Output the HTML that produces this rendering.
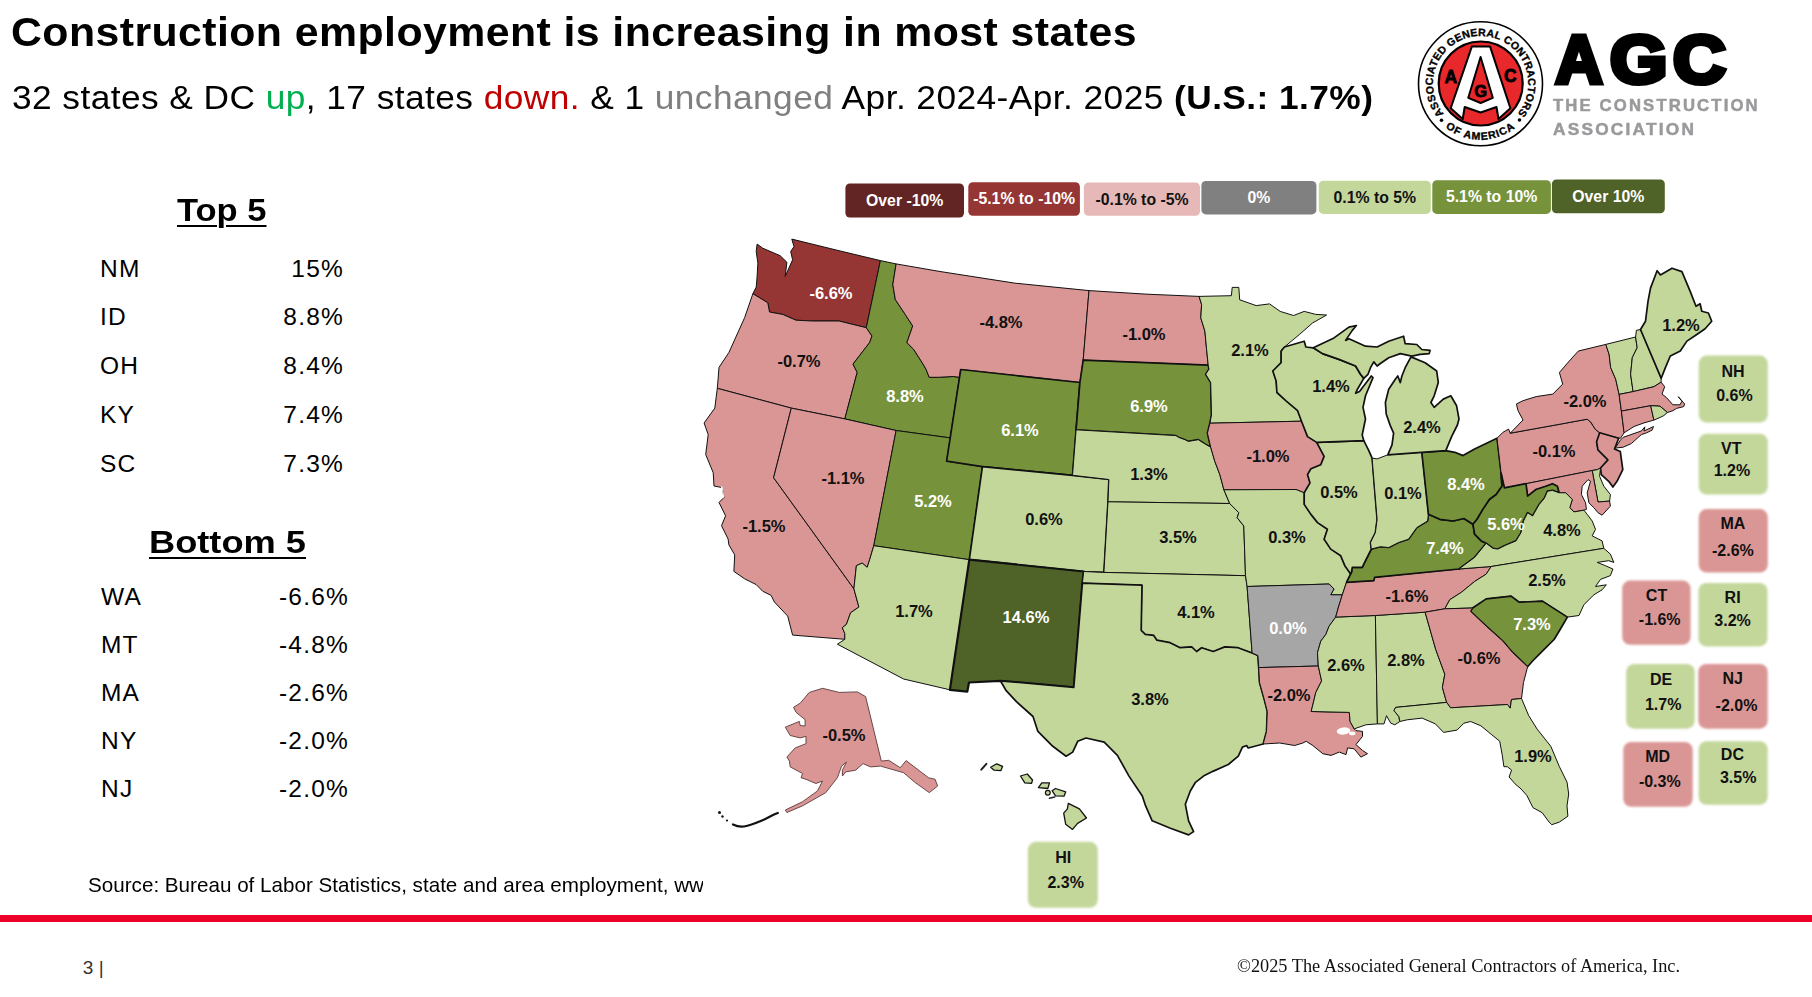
<!DOCTYPE html>
<html><head><meta charset="utf-8"><title>Construction employment</title>
<style>
html,body{margin:0;padding:0;background:#fff}
body{width:1812px;height:997px;position:relative;overflow:hidden;font-family:"Liberation Sans",sans-serif;color:#000}
.abs{position:absolute;white-space:nowrap;line-height:1}
#title{transform:scaleX(1.0701);transform-origin:0 0;}#sub{transform:scaleX(1.0698);transform-origin:0 0;}#src span{display:inline-block;transform:scaleX(1.0432);transform-origin:0 0;}#cp{transform:scaleX(1.0011);transform-origin:0 0;}#h1{transform:scaleX(1.0958);transform-origin:0 0;}#h2{transform:scaleX(1.1502);transform-origin:0 0;}
#title{left:11px;top:11.8px;font-size:40px;font-weight:700;letter-spacing:0.4px}
#sub{left:12px;top:80.7px;font-size:33px;letter-spacing:0.4px}
.h{font-size:31.5px;font-weight:700;text-decoration:underline;text-decoration-thickness:2px;text-underline-offset:4px;text-align:center}
.row{font-size:24.5px;letter-spacing:1.2px}
.val{text-align:right}
#src{left:88.3px;top:876.1px;font-size:19.8px;width:614.4px;overflow:hidden}
#bar{left:0;top:914.9px;width:1812px;height:7.1px;background:#EC0029}
#pg{left:82.8px;top:957.6px;font-size:19px;color:#333}
#cp{left:1237px;top:957px;font-size:18.3px;font-family:"Liberation Serif",serif;color:#111}
.agc{top:25.7px;font-size:65px;font-weight:700;-webkit-text-stroke:5px #000;transform-origin:0 0}
#tag1{transform:scaleX(1.0243);transform-origin:0 0;}#tag2{transform:scaleX(1.0604);transform-origin:0 0;}
.tag{font-size:16.3px;font-weight:700;color:#9a9a9d;letter-spacing:2.1px;-webkit-text-stroke:0.5px #9a9a9d}
svg{position:absolute;left:0;top:0}
svg text{font-family:"Liberation Sans",sans-serif;font-weight:700;text-anchor:middle}
</style></head><body>
<div class="abs" id="title">Construction employment is increasing in most states</div>
<div class="abs" id="sub">32 states &amp; DC <span style="color:#00B050">up</span>, 17 states <span style="color:#C00000">down.</span> &amp; 1 <span style="color:#7F7F7F">unchanged</span> Apr. 2024-Apr. 2025 <b>(U.S.: 1.7%)</b></div>
<div class="abs h" id="h1" style="left:176.5px;top:195px;">Top 5</div>
<div class="abs h" id="h2" style="left:148.5px;top:526.6px;">Bottom 5</div>
<div class="abs row" style="left:100px;top:256.5px">NM</div><div class="abs row val" style="left:194px;width:150px;top:256.5px">15%</div>
<div class="abs row" style="left:100px;top:305.3px">ID</div><div class="abs row val" style="left:194px;width:150px;top:305.3px">8.8%</div>
<div class="abs row" style="left:100px;top:354.2px">OH</div><div class="abs row val" style="left:194px;width:150px;top:354.2px">8.4%</div>
<div class="abs row" style="left:100px;top:403.0px">KY</div><div class="abs row val" style="left:194px;width:150px;top:403.0px">7.4%</div>
<div class="abs row" style="left:100px;top:451.9px">SC</div><div class="abs row val" style="left:194px;width:150px;top:451.9px">7.3%</div>
<div class="abs row" style="left:101px;top:584.9px">WA</div><div class="abs row val" style="left:199px;width:150px;top:584.9px">-6.6%</div>
<div class="abs row" style="left:101px;top:633.0px">MT</div><div class="abs row val" style="left:199px;width:150px;top:633.0px">-4.8%</div>
<div class="abs row" style="left:101px;top:681.1px">MA</div><div class="abs row val" style="left:199px;width:150px;top:681.1px">-2.6%</div>
<div class="abs row" style="left:101px;top:729.2px">NY</div><div class="abs row val" style="left:199px;width:150px;top:729.2px">-2.0%</div>
<div class="abs row" style="left:101px;top:777.3px">NJ</div><div class="abs row val" style="left:199px;width:150px;top:777.3px">-2.0%</div>
<div class="abs" id="src"><span id="srcs">Source: Bureau of Labor Statistics, state and area employment, www.bls.gov/sae</span></div>
<div class="abs" id="bar"></div>
<div class="abs" id="pg">3 |</div>
<div class="abs" id="cp">©2025 The Associated General Contractors of America, Inc.</div>
<div class="abs agc" style="left:1555.5px;transform:scale(1,1.04)">A</div><div class="abs agc" style="left:1609.7px;transform:scale(1.135,1.04)">G</div><div class="abs agc" style="left:1673.3px;transform:scale(1.125,1.04)">C</div>
<div class="abs tag" id="tag1" style="left:1552.5px;top:97.1px">THE CONSTRUCTION</div>
<div class="abs tag" id="tag2" style="left:1552.5px;top:120.7px">ASSOCIATION</div>
<svg width="1812" height="997" viewBox="0 0 1812 997">
<defs><path id="arcT" d="M1444.14 114.20A47.6 47.6 0 1 1 1517.06 114.20"/>
<path id="arcB" d="M1431.93 111.70A56.2 56.2 0 0 0 1529.27 111.70"/>
</defs>
<g id="logo">
<circle cx="1480.5" cy="83.8" r="62" fill="#fff" stroke="#000" stroke-width="1.6"/>
<circle cx="1480.7" cy="83.5" r="42" fill="#E8282B" stroke="#000" stroke-width="2.2"/>
<text font-size="10.6" letter-spacing="0.2" fill="#000" stroke="#000" stroke-width="0.35"><textPath href="#arcT" startOffset="50%">ASSOCIATED GENERAL CONTRACTORS</textPath></text>
<text font-size="10.6" letter-spacing="0.9" fill="#000" stroke="#000" stroke-width="0.35"><textPath href="#arcB" startOffset="50%">OF AMERICA</textPath></text>
<circle cx="1441.5" cy="120.3" r="1.8"/><circle cx="1519.5" cy="120" r="1.8"/>
<path d="M1471.8 46.6L1490.1 46.6L1510.4 108.3L1498.5 119L1496.5 107L1480.6 112.5L1464.7 107L1462.7 119L1450.7 108.3Z M1480.6 57L1492.8 97.8L1480.6 103L1468.3 97.8Z" fill="#fff" stroke="#000" stroke-width="2" fill-rule="evenodd" stroke-linejoin="round"/>
<text x="1450.7" y="83" font-size="17.5" fill="#000" stroke="#000" stroke-width="0.8">A</text>
<text x="1480.6" y="97" font-size="16.5" fill="#000" stroke="#000" stroke-width="0.8">G</text>
<text x="1510.4" y="82" font-size="17.5" fill="#000" stroke="#000" stroke-width="0.8">C</text>
</g>
<g id="legend" font-size="15.8"><rect x="845.4" y="183.5" width="118.6" height="34.0" rx="4.5" fill="#632523"/><text x="904.7" y="205.8" fill="#fff">Over -10%</text><rect x="968.3" y="182.3" width="111.6" height="33.5" rx="4.5" fill="#963634"/><text x="1024.1" y="204.4" fill="#fff">-5.1% to -10%</text><rect x="1083.9" y="182.6" width="116.1" height="33.2" rx="4.5" fill="#E6B8B7"/><text x="1142.0" y="204.5" fill="#111">-0.1% to -5%</text><rect x="1201.4" y="181" width="115.0" height="33.4" rx="4.5" fill="#808080"/><text x="1258.9" y="203.0" fill="#fff">0%</text><rect x="1318.8" y="180.7" width="112.0" height="33.2" rx="4.5" fill="#C4D79B"/><text x="1374.8" y="202.6" fill="#111">0.1% to 5%</text><rect x="1432.3" y="180.2" width="118.6" height="33.7" rx="4.5" fill="#76933C"/><text x="1491.6" y="202.4" fill="#fff">5.1% to 10%</text><rect x="1551.9" y="179.5" width="112.9" height="33.7" rx="4.5" fill="#4F6228"/><text x="1608.3" y="201.7" fill="#fff">Over 10%</text></g>
<g id="map">
<polygon points="752.9,293.7 756.2,287.1 757.0,278.0 757.9,263.1 756.2,251.5 757.1,244.1 762.8,248.2 780.2,255.7 786.9,262.3 785.2,276.4 792.6,259.8 790.7,251.5 794.0,246.6 791.8,239.1 839.0,250.7 880.4,260.6 866.3,327.7 839.0,321.0 812.5,321.0 796.0,320.2 782.7,314.4 769.5,312.0 767.8,302.8" fill="#963634" stroke="#111" stroke-width="1.0" stroke-linejoin="round"/>
<polygon points="752.9,293.7 767.8,302.8 769.5,312.0 782.7,314.4 796.0,320.2 812.5,321.0 839.0,321.0 866.3,327.7 872.0,336.0 869.6,342.6 853.0,364.1 857.2,372.4 844.8,418.9 791.3,408.1 717.3,388.3 718.1,379.0 719.0,367.4 728.9,352.5 744.6,317.7" fill="#DA9694" stroke="#111" stroke-width="1.0" stroke-linejoin="round"/>
<polygon points="880.4,260.6 896.1,263.9 892.8,284.6 895.3,299.5 905.2,314.4 912.7,326.0 906.9,342.6 913.5,349.2 921.0,360.8 925.9,369.0 929.2,377.3 938.3,377.3 953.2,376.5 959.5,377.3 950.2,437.9 896.1,430.5 844.8,418.9 857.2,372.4 853.0,364.1 869.6,342.6 872.0,336.0 866.3,327.7" fill="#76933C" stroke="#111" stroke-width="1.0" stroke-linejoin="round"/>
<polygon points="717.3,388.3 791.3,408.1 773.6,477.7 853.9,588.8 858.9,607.0 850.6,612.8 846.4,624.4 842.3,627.7 844.8,633.5 844.8,639.3 792.6,635.1 787.7,616.1 774.4,602.0 771.1,595.4 762.8,591.3 756.2,584.6 744.6,578.8 733.9,571.4 734.7,554.8 728.9,544.9 728.1,539.0 721.5,525.7 725.6,515.8 719.0,502.5 723.9,497.5 722.3,487.6 714.0,486.0 713.2,472.7 705.7,454.5 708.2,434.6 704.1,423.0 714.8,408.1" fill="#DA9694" stroke="#111" stroke-width="1.0" stroke-linejoin="round"/>
<polygon points="791.3,408.1 844.8,418.9 896.1,430.5 873.8,545.7 869.6,559.8 867.2,567.3 862.2,563.1 856.4,565.6 853.9,588.8 773.6,477.7" fill="#DA9694" stroke="#111" stroke-width="1.0" stroke-linejoin="round"/>
<polygon points="896.1,430.5 950.2,437.9 946.6,461.2 982.4,466.6 969.3,559.7 873.8,545.7" fill="#76933C" stroke="#111" stroke-width="1.0" stroke-linejoin="round"/>
<polygon points="873.8,545.7 969.3,559.7 949.9,689.8 903.6,679.0 837.4,644.2 844.8,639.3 844.8,633.5 842.3,627.7 846.4,624.4 850.6,612.8 858.9,607.0 853.9,588.8 856.4,565.6 862.2,563.1 867.2,567.3 869.6,559.8" fill="#C4D79B" stroke="#111" stroke-width="1.0" stroke-linejoin="round"/>
<polygon points="896.1,263.9 940.0,271.5 1014.5,283.1 1089.0,290.6 1083.2,360.1 1079.9,382.5 960.7,369.5 959.5,377.3 953.2,376.5 938.3,377.3 929.2,377.3 925.9,369.0 921.0,360.8 913.5,349.2 906.9,342.6 912.7,326.0 905.2,314.4 895.3,299.5 892.8,284.6" fill="#DA9694" stroke="#111" stroke-width="1.0" stroke-linejoin="round"/>
<polygon points="960.7,369.5 1079.9,382.5 1076.1,429.8 1072.5,475.3 982.4,466.6 946.6,461.2 950.2,437.9 959.5,377.3" fill="#76933C" stroke="#111" stroke-width="1.7" stroke-linejoin="round"/>
<polygon points="982.4,466.6 1072.5,475.3 1108.9,479.5 1108.0,501.8 1103.9,572.4 1083.7,571.5 969.3,559.7" fill="#C4D79B" stroke="#111" stroke-width="1.7" stroke-linejoin="round"/>
<polygon points="969.3,559.7 1083.7,571.5 1082.4,583.1 1073.8,687.4 1000.4,680.8 969.0,682.5 967.3,691.6 949.9,689.8" fill="#4F6228" stroke="#111" stroke-width="2.2" stroke-linejoin="round"/>
<polygon points="1089.0,290.6 1147.0,294.2 1199.1,296.4 1201.6,304.6 1200.8,317.9 1204.9,331.1 1206.6,349.3 1208.2,365.1 1083.2,360.1" fill="#DA9694" stroke="#111" stroke-width="1.0" stroke-linejoin="round"/>
<polygon points="1083.2,360.1 1208.2,365.1 1209.0,369.2 1205.7,374.2 1210.7,382.5 1211.5,415.0 1209.9,423.2 1207.4,433.1 1210.7,447.2 1204.9,443.9 1198.3,439.7 1188.3,441.4 1185.0,439.7 1178.4,437.3 1175.9,435.6 1076.1,429.8 1079.9,382.5" fill="#76933C" stroke="#111" stroke-width="1.7" stroke-linejoin="round"/>
<polygon points="1076.1,429.8 1175.9,435.6 1178.4,437.3 1185.0,439.7 1188.3,441.4 1198.3,439.7 1204.9,443.9 1210.7,447.2 1214.8,461.3 1219.8,474.5 1223.9,489.8 1229.7,503.5 1108.0,501.8 1108.9,479.5 1072.5,475.3" fill="#C4D79B" stroke="#111" stroke-width="1.0" stroke-linejoin="round"/>
<polygon points="1108.0,501.8 1229.7,503.5 1238.8,512.7 1237.2,517.7 1243.8,526.0 1245.5,575.7 1103.9,572.4" fill="#C4D79B" stroke="#111" stroke-width="1.0" stroke-linejoin="round"/>
<polygon points="1083.7,571.5 1103.9,572.4 1245.5,575.7 1247.1,586.5 1252.1,653.0 1238.0,647.7 1224.8,646.9 1213.2,651.5 1201.6,647.7 1196.6,651.5 1191.7,646.9 1180.1,647.7 1170.1,642.7 1156.9,640.2 1153.6,635.3 1145.3,634.4 1141.2,630.3 1142.0,585.1 1082.4,583.1" fill="#C4D79B" stroke="#111" stroke-width="1.0" stroke-linejoin="round"/>
<polygon points="1082.4,583.1 1142.0,585.1 1141.2,630.3 1145.3,634.4 1153.6,635.3 1156.9,640.2 1170.1,642.7 1180.1,647.7 1191.7,646.9 1196.6,651.5 1201.6,647.7 1213.2,651.5 1224.8,646.9 1238.0,647.7 1252.1,653.0 1257.9,655.5 1258.7,667.6 1259.5,682.5 1263.7,697.4 1267.3,711.5 1266.5,731.4 1263.2,744.0 1248.2,748.0 1246.6,745.5 1242.4,747.1 1238.3,756.2 1228.3,764.5 1213.4,771.1 1203.5,776.1 1195.2,782.7 1190.3,791.0 1185.3,804.2 1188.6,820.8 1193.6,831.6 1188.6,834.9 1170.4,828.2 1152.2,820.8 1145.6,805.9 1142.3,796.0 1129.0,776.1 1117.4,755.4 1104.2,742.2 1086.0,738.0 1077.7,741.3 1072.7,752.1 1066.1,756.2 1052.8,746.3 1037.9,731.4 1033.0,716.5 1016.4,701.6 1006.2,690.7 1000.4,680.8 1073.8,687.4" fill="#C4D79B" stroke="#111" stroke-width="1.7" stroke-linejoin="round"/>
<polygon points="1199.1,296.4 1231.4,295.7 1232.2,287.4 1238.8,287.4 1239.7,299.8 1256.2,305.6 1269.5,303.9 1280.2,311.4 1293.5,315.5 1304.2,311.4 1315.8,314.4 1326.6,315.0 1312.5,323.0 1299.3,334.6 1284.4,347.0 1281.1,351.1 1281.1,362.7 1272.8,371.0 1276.1,380.9 1276.9,392.5 1286.0,400.8 1297.6,410.7 1301.5,421.2 1209.9,423.2 1211.5,415.0 1210.7,382.5 1205.7,374.2 1209.0,369.2 1208.2,365.1 1206.6,349.3 1204.9,331.1 1200.8,317.9 1201.6,304.6" fill="#C4D79B" stroke="#111" stroke-width="1.0" stroke-linejoin="round"/>
<polygon points="1209.9,423.2 1301.5,421.2 1307.5,436.6 1316.7,442.4 1324.1,456.4 1320.8,464.7 1310.9,468.8 1307.5,474.6 1310.0,482.9 1304.2,492.8 1296.0,489.5 1223.9,489.8 1219.8,474.5 1214.8,461.3 1210.7,447.2 1207.4,433.1" fill="#DA9694" stroke="#111" stroke-width="1.0" stroke-linejoin="round"/>
<polygon points="1223.9,489.8 1296.0,489.5 1304.2,492.8 1304.2,504.4 1310.9,514.4 1317.5,522.6 1327.4,529.3 1324.1,539.2 1330.7,549.1 1340.7,555.8 1344.8,565.7 1350.6,574.0 1346.5,582.3 1342.3,594.8 1330.7,594.8 1334.0,589.0 1329.1,584.0 1247.1,586.5 1245.5,575.7 1243.8,526.0 1237.2,517.7 1238.8,512.7 1229.7,503.5" fill="#C4D79B" stroke="#111" stroke-width="1.0" stroke-linejoin="round"/>
<polygon points="1247.1,586.5 1329.1,584.0 1334.0,589.0 1330.7,594.8 1342.3,594.8 1338.2,608.0 1335.7,617.1 1329.1,626.2 1325.8,634.5 1320.8,641.1 1317.5,652.7 1318.3,666.0 1258.7,667.6 1257.9,655.5 1252.1,653.0" fill="#A6A6A6" stroke="#111" stroke-width="1.0" stroke-linejoin="round"/>
<polygon points="1258.7,667.6 1318.3,666.0 1321.6,680.9 1315.8,692.5 1311.2,711.5 1349.3,712.4 1350.1,721.5 1354.2,728.9 1355.9,730.6 1362.5,731.4 1362.5,736.4 1355.9,744.6 1362.5,750.4 1367.5,753.7 1360.9,757.1 1354.2,748.8 1347.6,747.9 1346.0,754.6 1339.3,752.1 1331.1,755.4 1322.8,753.7 1312.8,745.5 1306.2,741.3 1302.9,743.0 1294.6,745.5 1279.7,743.0 1263.2,744.0 1266.5,731.4 1267.3,711.5 1263.7,697.4 1259.5,682.5" fill="#DA9694" stroke="#111" stroke-width="1.0" stroke-linejoin="round"/>
<polygon points="1335.7,617.1 1375.4,615.5 1377.4,723.9 1365.8,724.8 1354.2,728.9 1350.1,721.5 1349.3,712.4 1311.2,711.5 1315.8,692.5 1321.6,680.9 1318.3,666.0 1317.5,652.7 1320.8,641.1 1325.8,634.5 1329.1,626.2" fill="#C4D79B" stroke="#111" stroke-width="1.0" stroke-linejoin="round"/>
<polygon points="1375.4,615.5 1425.1,612.2 1435.7,649.4 1444.8,674.2 1442.4,687.5 1446.6,702.4 1395.6,707.4 1394.0,710.7 1398.9,716.5 1399.8,721.5 1394.8,724.8 1390.7,723.1 1386.5,715.7 1384.0,723.9 1377.4,723.9" fill="#C4D79B" stroke="#111" stroke-width="1.0" stroke-linejoin="round"/>
<polygon points="1346.5,582.3 1373.8,580.7 1374.6,577.4 1458.9,569.0 1491.2,566.5 1486.2,574.1 1474.6,581.5 1461.4,592.3 1449.8,599.7 1444.8,608.8 1425.1,612.2 1375.4,615.5 1335.7,617.1 1338.2,608.0 1342.3,594.8" fill="#DA9694" stroke="#111" stroke-width="1.0" stroke-linejoin="round"/>
<polygon points="1350.6,574.0 1351.4,572.3 1352.3,567.4 1362.2,567.4 1365.5,560.7 1371.3,549.1 1380.4,546.7 1388.7,547.5 1398.6,542.5 1408.5,539.2 1416.8,527.6 1427.6,521.0 1428.4,514.3 1439.9,519.3 1453.1,521.0 1463.9,518.5 1473.0,524.3 1474.6,534.2 1481.3,540.9 1486.2,543.3 1474.6,557.4 1458.9,569.0 1374.6,577.4 1373.8,580.7 1346.5,582.3" fill="#76933C" stroke="#111" stroke-width="1.7" stroke-linejoin="round"/>
<polygon points="1316.7,442.4 1363.8,440.7 1368.8,450.6 1372.1,458.1 1377.1,519.3 1375.4,532.6 1370.5,542.5 1371.3,549.1 1365.5,560.7 1362.2,567.4 1352.3,567.4 1351.4,572.3 1350.6,574.0 1344.8,565.7 1340.7,555.8 1330.7,549.1 1324.1,539.2 1327.4,529.3 1317.5,522.6 1310.9,514.4 1304.2,504.4 1304.2,492.8 1310.0,482.9 1307.5,474.6 1310.9,468.8 1320.8,464.7 1324.1,456.4" fill="#C4D79B" stroke="#111" stroke-width="1.7" stroke-linejoin="round"/>
<polygon points="1372.1,458.1 1377.1,458.9 1387.8,454.8 1421.8,452.3 1428.4,514.3 1427.6,521.0 1416.8,527.6 1408.5,539.2 1398.6,542.5 1388.7,547.5 1380.4,546.7 1371.3,549.1 1370.5,542.5 1375.4,532.6 1377.1,519.3" fill="#C4D79B" stroke="#111" stroke-width="1.0" stroke-linejoin="round"/>
<polygon points="1421.8,452.3 1445.8,450.6 1454.9,452.3 1463.0,455.6 1474.6,449.0 1497.0,438.2 1501.1,473.0 1502.0,486.2 1496.2,494.5 1489.5,499.5 1482.9,509.4 1477.1,519.3 1473.0,524.3 1463.9,518.5 1453.1,521.0 1439.9,519.3 1428.4,514.3" fill="#76933C" stroke="#111" stroke-width="1.7" stroke-linejoin="round"/>
<polygon points="1284.4,347.0 1304.2,341.2 1305.9,347.0 1313.3,347.8 1322.5,353.6 1339.0,359.4 1355.6,366.0 1360.5,374.3 1363.8,378.4 1357.0,390.0 1355.6,393.3 1359.5,391.5 1371.3,376.0 1373.0,377.6 1365.5,395.8 1363.0,407.4 1365.5,419.0 1362.2,435.0 1363.8,440.7 1316.7,442.4 1307.5,436.6 1301.5,421.2 1297.6,410.7 1286.0,400.8 1276.9,392.5 1276.1,380.9 1272.8,371.0 1281.1,362.7 1281.1,351.1" fill="#C4D79B" stroke="#111" stroke-width="1.7" stroke-linejoin="round"/>
<polygon points="1313.3,347.8 1334.0,337.9 1348.9,327.1 1356.4,325.5 1352.3,330.4 1345.6,340.4 1349.0,338.7 1365.5,346.2 1377.1,347.0 1388.7,341.2 1403.6,336.2 1405.2,343.7 1416.8,344.5 1421.8,349.5 1430.1,350.3 1429.2,353.6 1420.1,354.4 1411.9,356.1 1400.3,353.6 1388.7,357.7 1380.4,363.5 1377.1,366.0 1373.8,361.9 1370.5,367.7 1368.0,374.3 1363.8,378.4 1360.5,374.3 1355.6,366.0 1339.0,359.4 1322.5,353.6" fill="#C4D79B" stroke="#111" stroke-width="1.7" stroke-linejoin="round"/>
<polygon points="1411.0,356.9 1425.1,362.7 1436.7,371.0 1438.3,382.6 1434.2,395.8 1430.9,402.5 1434.2,407.4 1443.3,399.1 1450.8,395.8 1456.6,405.8 1459.0,419.0 1457.4,425.0 1451.6,436.6 1445.8,450.6 1421.8,452.3 1387.8,454.8 1392.0,444.8 1393.6,433.2 1390.3,425.6 1386.2,414.0 1385.4,402.5 1388.7,389.2 1395.3,379.3 1397.8,376.0 1400.3,382.6 1401.9,376.0 1405.2,367.7" fill="#C4D79B" stroke="#111" stroke-width="1.7" stroke-linejoin="round"/>
<polygon points="1497.0,438.2 1502.8,432.4 1508.6,429.1 1510.2,433.2 1560.0,424.2 1587.1,419.2 1590.7,422.0 1595.2,429.2 1599.7,432.8 1596.6,441.8 1597.9,449.9 1607.9,459.9 1600.5,468.0 1597.2,469.7 1592.2,470.5 1526.0,483.7 1504.4,487.9 1501.1,473.0" fill="#DA9694" stroke="#111" stroke-width="1.0" stroke-linejoin="round"/>
<polygon points="1510.2,433.2 1523.0,420.0 1518.0,410.6 1516.4,404.0 1523.0,400.7 1536.2,396.6 1552.8,394.1 1562.7,384.1 1559.4,372.5 1569.3,361.0 1578.4,351.0 1605.8,344.4 1609.1,354.3 1610.7,367.6 1615.7,379.2 1619.1,394.4 1621.4,411.1 1624.1,432.8 1620.5,438.2 1618.7,438.2 1599.7,432.8 1595.2,429.2 1590.7,422.0 1587.1,419.2 1560.0,424.2" fill="#DA9694" stroke="#111" stroke-width="1.0" stroke-linejoin="round"/>
<polygon points="1620.5,440.0 1623.2,437.3 1641.3,431.0 1644.9,426.9 1644.0,431.0 1653.5,426.5 1652.1,430.1 1646.7,432.8 1641.3,434.6 1631.3,443.6 1623.2,447.2 1615.1,448.1" fill="#DA9694" stroke="#111" stroke-width="1.0" stroke-linejoin="round"/>
<polygon points="1599.7,432.8 1618.7,438.2 1614.5,449.0 1620.3,451.5 1622.8,469.7 1617.0,481.3 1612.9,487.1 1608.7,481.3 1601.3,474.6 1600.5,468.0 1607.9,459.9 1597.9,449.9 1596.6,441.8" fill="#DA9694" stroke="#111" stroke-width="1.7" stroke-linejoin="round"/>
<polygon points="1592.2,470.5 1597.2,469.7 1600.5,468.0 1599.6,476.3 1603.8,486.2 1610.4,494.5 1609.6,501.1 1598.0,502.0" fill="#C4D79B" stroke="#111" stroke-width="1.0" stroke-linejoin="round"/>
<polygon points="1526.0,483.7 1592.2,470.5 1598.0,502.0 1609.6,501.1 1610.4,506.1 1602.1,515.2 1598.0,512.7 1593.8,507.7 1588.9,502.8 1587.2,492.8 1590.5,481.3 1588.0,479.6 1582.2,486.2 1581.4,494.5 1585.6,502.8 1586.4,509.4 1583.9,510.2 1574.0,511.9 1569.8,507.7 1572.3,499.5 1565.7,492.8 1559.1,492.8 1557.4,486.2 1552.5,483.7 1545.8,486.2 1535.9,489.5 1527.6,496.2" fill="#DA9694" stroke="#111" stroke-width="1.0" stroke-linejoin="round"/>
<polygon points="1501.1,473.0 1504.4,487.9 1526.0,483.7 1527.6,496.2 1535.9,489.5 1545.8,486.2 1552.5,483.7 1557.4,486.2 1559.1,492.8 1552.5,490.4 1547.5,491.2 1544.2,498.6 1539.2,504.4 1535.9,510.2 1532.6,516.0 1527.6,512.7 1523.5,521.0 1521.0,532.6 1516.0,540.9 1506.1,545.0 1497.8,549.1 1492.8,548.3 1486.2,543.3 1481.3,540.9 1474.6,534.2 1473.0,524.3 1477.1,519.3 1482.9,509.4 1489.5,499.5 1496.2,494.5 1502.0,486.2" fill="#76933C" stroke="#111" stroke-width="1.7" stroke-linejoin="round"/>
<polygon points="1486.2,543.3 1492.8,548.3 1497.8,549.1 1506.1,545.0 1516.0,540.9 1521.0,532.6 1523.5,521.0 1527.6,512.7 1532.6,516.0 1535.9,510.2 1539.2,504.4 1544.2,498.6 1547.5,491.2 1552.5,490.4 1559.1,492.8 1565.7,492.8 1572.3,499.5 1569.8,507.7 1574.0,511.9 1583.9,510.2 1587.2,514.4 1592.2,521.0 1595.5,529.3 1592.2,535.9 1602.1,540.9 1603.8,548.3 1491.2,566.5 1458.9,569.0 1474.6,557.4" fill="#C4D79B" stroke="#111" stroke-width="1.0" stroke-linejoin="round"/>
<polygon points="1491.2,566.5 1603.8,548.3 1610.4,554.1 1613.8,562.4 1608.7,560.7 1597.2,562.4 1605.4,565.7 1612.9,569.0 1610.4,575.6 1600.5,579.4 1595.5,586.5 1606.3,584.8 1602.1,589.8 1593.9,594.8 1583.9,604.7 1579.0,615.5 1567.4,617.1 1542.5,601.1 1519.3,602.2 1511.1,596.1 1486.2,598.9 1472.6,608.0 1444.8,608.8 1449.8,599.7 1461.4,592.3 1474.6,581.5 1486.2,574.1" fill="#C4D79B" stroke="#111" stroke-width="1.0" stroke-linejoin="round"/>
<polygon points="1472.6,608.0 1486.2,598.9 1511.1,596.1 1519.3,602.2 1542.5,601.1 1567.4,617.1 1559.1,631.2 1554.1,639.5 1540.9,652.7 1532.6,661.0 1527.6,666.8 1512.7,652.7 1502.8,641.1 1486.2,626.2 1470.5,611.3" fill="#76933C" stroke="#111" stroke-width="1.7" stroke-linejoin="round"/>
<polygon points="1425.1,612.2 1444.8,608.8 1472.6,608.0 1470.5,611.3 1486.2,626.2 1502.8,641.1 1512.7,652.7 1527.6,666.8 1523.5,682.5 1521.5,698.5 1511.5,699.5 1510.2,708.2 1507.5,704.5 1450.5,707.8 1446.6,702.4 1442.4,687.5 1444.8,674.2 1435.7,649.4" fill="#DA9694" stroke="#111" stroke-width="1.0" stroke-linejoin="round"/>
<polygon points="1446.6,702.4 1450.5,707.8 1507.5,704.5 1510.2,708.2 1511.5,699.5 1521.5,698.5 1528.7,715.6 1537.2,729.2 1550.8,746.3 1559.4,766.7 1567.0,782.1 1568.7,794.0 1567.0,805.9 1567.9,816.2 1559.4,822.1 1551.7,824.7 1549.1,822.1 1542.3,812.8 1532.9,807.6 1527.0,795.7 1521.0,788.9 1515.0,783.8 1509.1,777.0 1511.6,770.1 1507.3,766.7 1503.9,766.7 1502.2,754.8 1499.7,741.2 1491.2,734.3 1480.9,725.8 1470.7,721.5 1463.9,723.2 1457.0,730.1 1443.6,732.4 1435.4,723.9 1422.1,718.1 1407.2,719.8 1399.8,721.5 1398.9,716.5 1394.0,710.7 1395.6,707.4" fill="#C4D79B" stroke="#111" stroke-width="1.0" stroke-linejoin="round"/>
<polygon points="1605.8,344.4 1635.6,337.0 1637.2,347.7 1632.3,357.6 1630.6,374.2 1633.1,391.6 1619.1,394.4 1615.7,379.2 1610.7,367.6 1609.1,354.3" fill="#C4D79B" stroke="#111" stroke-width="1.0" stroke-linejoin="round"/>
<polygon points="1635.6,337.0 1636.4,330.3 1640.5,329.5 1661.2,378.3 1661.1,382.2 1653.9,386.7 1633.1,391.6 1630.6,374.2 1632.3,357.6 1637.2,347.7" fill="#C4D79B" stroke="#111" stroke-width="1.0" stroke-linejoin="round"/>
<polygon points="1640.5,329.5 1645.5,321.2 1648.0,301.4 1650.5,288.1 1657.1,270.7 1660.4,274.9 1672.0,268.2 1681.9,271.6 1690.2,291.4 1696.0,306.3 1700.1,303.8 1701.8,311.3 1708.4,313.0 1711.7,321.2 1705.1,328.7 1696.8,334.5 1686.9,341.1 1680.3,351.0 1670.3,356.0 1665.4,367.6 1661.2,378.3" fill="#C4D79B" stroke="#111" stroke-width="1.7" stroke-linejoin="round"/>
<polygon points="1619.1,394.4 1633.1,391.6 1653.9,386.7 1661.1,382.2 1664.7,386.7 1662.0,394.0 1666.5,397.6 1672.9,404.8 1680.1,404.8 1681.9,401.2 1678.3,396.7 1684.6,403.9 1683.7,406.6 1676.5,408.4 1672.9,410.7 1667.4,412.5 1660.0,406.2 1650.7,405.7 1621.4,411.1" fill="#DA9694" stroke="#111" stroke-width="1.0" stroke-linejoin="round"/>
<polygon points="1621.4,411.1 1650.7,405.7 1653.9,420.1 1644.0,422.9 1634.0,426.5 1624.1,432.8" fill="#DA9694" stroke="#111" stroke-width="1.0" stroke-linejoin="round"/>
<polygon points="1650.7,405.7 1660.0,406.2 1667.4,412.5 1663.8,415.6 1660.2,417.4 1653.9,420.1" fill="#C4D79B" stroke="#111" stroke-width="1.0" stroke-linejoin="round"/>
<polygon points="822.5,688.3 839.1,692.4 857.3,691.9 865.6,696.6 881.3,761.1 888.7,760.3 900.3,767.7 906.1,760.6 928.5,777.7 935.1,779.3 937.6,786.0 929.3,792.6 915.2,782.6 903.6,772.7 880.5,766.1 870.5,766.9 863.1,763.6 855.6,770.2 845.7,771.9 842.4,776.0 842.4,770.2 846.5,762.0 841.6,766.1 837.4,777.7 825.8,792.6 802.6,805.8 786.9,812.5 785.3,810.0 802.6,801.7 817.5,790.9 822.5,781.0 815.9,783.5 806.0,779.3 801.0,777.7 802.6,773.5 790.2,766.9 789.4,761.1 786.9,757.0 795.2,747.9 806.0,743.7 806.0,736.3 800.2,737.9 790.2,735.5 785.3,727.2 799.3,721.4 800.2,725.5 805.1,726.0 805.1,719.7 796.0,712.3 793.5,707.3 800.2,703.2 809.3,692.4" fill="#DA9694" stroke="#5a3a3a" stroke-width="0.9" stroke-linejoin="round"/>
<polygon points="990.7,767.2 996.7,763.8 1002.6,766.3 1000.9,770.6 994.1,770.2" fill="#C4D79B" stroke="#111" stroke-width="1.3" stroke-linejoin="round"/>
<polygon points="1020.5,776.0 1027.3,774.0 1032.5,780.0 1031.6,783.4 1024.8,782.9" fill="#C4D79B" stroke="#111" stroke-width="1.3" stroke-linejoin="round"/>
<polygon points="1038.4,787.6 1041.8,782.9 1049.5,782.9 1047.8,788.5" fill="#C4D79B" stroke="#111" stroke-width="1.3" stroke-linejoin="round"/>
<polygon points="1052.1,790.7 1055.5,788.5 1065.7,791.9 1064.0,796.2 1055.5,795.8" fill="#C4D79B" stroke="#111" stroke-width="1.3" stroke-linejoin="round"/>
<polygon points="1068.3,803.3 1079.4,808.9 1086.5,818.0 1077.6,823.4 1072.5,829.4 1065.7,824.3 1063.7,813.2 1067.4,808.9" fill="#C4D79B" stroke="#111" stroke-width="1.3" stroke-linejoin="round"/>

<path d="M720.6 486.2L722.6 486.8L724.2 497L722.6 498.4L722.4 491Z" fill="#fff"/>
<ellipse cx="1343.5" cy="731" rx="6.8" ry="3.6" fill="#fff" transform="rotate(-5 1343.5 731)"/>
<ellipse cx="1352.2" cy="733.4" rx="3.2" ry="1.8" fill="#fff"/>
<circle cx="1047.8" cy="792.7" r="2.4" fill="#C4D79B" stroke="#111" stroke-width="1.2"/>
<path d="M981.3 769.7L986.4 763.8" stroke="#222" stroke-width="2" fill="none" stroke-linecap="round"/>
<path d="M1049.5 798.2L1054.6 797" stroke="#222" stroke-width="1.6" fill="none" stroke-linecap="round"/>
<path d="M777.8 813C772 815 768 818 762 820.5C756 823 750 825.5 744 826.5C740 827 736 826 733 824.5" stroke="#111" stroke-width="2.2" fill="none" stroke-linecap="round"/>
<circle cx="719.5" cy="812.5" r="1.5" fill="#111"/><circle cx="722.5" cy="816.5" r="1.2" fill="#111"/><circle cx="727" cy="820.5" r="1.1" fill="#111"/>

</g>
<g id="labels" font-size="16.5"><text x="831" y="298.8" fill="#fff">-6.6%</text><text x="799" y="366.8" fill="#111">-0.7%</text><text x="905" y="401.8" fill="#fff">8.8%</text><text x="1001" y="327.8" fill="#111">-4.8%</text><text x="1144" y="339.8" fill="#111">-1.0%</text><text x="1250" y="355.8" fill="#111">2.1%</text><text x="1020" y="435.8" fill="#fff">6.1%</text><text x="1149" y="411.8" fill="#fff">6.9%</text><text x="1331" y="391.8" fill="#111">1.4%</text><text x="1422" y="432.8" fill="#111">2.4%</text><text x="843" y="483.8" fill="#111">-1.1%</text><text x="933" y="506.8" fill="#fff">5.2%</text><text x="1044" y="524.8" fill="#111">0.6%</text><text x="1149" y="479.8" fill="#111">1.3%</text><text x="1268" y="461.8" fill="#111">-1.0%</text><text x="1339" y="497.8" fill="#111">0.5%</text><text x="1403" y="498.8" fill="#111">0.1%</text><text x="1466" y="489.8" fill="#fff">8.4%</text><text x="1554" y="456.8" fill="#111">-0.1%</text><text x="1585" y="406.8" fill="#111">-2.0%</text><text x="1681" y="330.8" fill="#111">1.2%</text><text x="764" y="531.8" fill="#111">-1.5%</text><text x="914" y="616.8" fill="#111">1.7%</text><text x="1026" y="622.8" fill="#fff">14.6%</text><text x="1178" y="542.8" fill="#111">3.5%</text><text x="1287" y="542.8" fill="#111">0.3%</text><text x="1445" y="553.8" fill="#fff">7.4%</text><text x="1506" y="529.8" fill="#fff">5.6%</text><text x="1562" y="535.8" fill="#111">4.8%</text><text x="1547" y="585.8" fill="#111">2.5%</text><text x="1407" y="601.8" fill="#111">-1.6%</text><text x="1196" y="617.8" fill="#111">4.1%</text><text x="1288" y="633.8" fill="#fff">0.0%</text><text x="1346" y="670.8" fill="#111">2.6%</text><text x="1406" y="665.8" fill="#111">2.8%</text><text x="1479" y="663.8" fill="#111">-0.6%</text><text x="1532" y="629.8" fill="#fff">7.3%</text><text x="1150" y="704.8" fill="#111">3.8%</text><text x="1289" y="700.8" fill="#111">-2.0%</text><text x="1533" y="761.8" fill="#111">1.9%</text><text x="844" y="740.8" fill="#111">-0.5%</text></g>
<g id="boxes" font-size="16"><rect x="1698.7" y="355.6" width="69.1" height="67.0" rx="8" fill="#C4D79B" style="filter:blur(0.9px)"/><text x="1733.1" y="376.5" fill="#111">NH</text><text x="1734.4" y="401.3" fill="#111">0.6%</text><rect x="1698.7" y="433.7" width="69.1" height="60.9" rx="8" fill="#C4D79B" style="filter:blur(0.9px)"/><text x="1731.3" y="453.9" fill="#111">VT</text><text x="1731.9" y="476.3" fill="#111">1.2%</text><rect x="1698.7" y="509.1" width="69.1" height="63.5" rx="8" fill="#DA9694" style="filter:blur(0.9px)"/><text x="1732.9" y="529.3" fill="#111">MA</text><text x="1732.9" y="555.6" fill="#111">-2.6%</text><rect x="1698.4" y="582.9" width="69.1" height="63.5" rx="8" fill="#C4D79B" style="filter:blur(0.9px)"/><text x="1732.6" y="603.1" fill="#111">RI</text><text x="1732.6" y="625.5" fill="#111">3.2%</text><rect x="1622.2" y="580.6" width="68.4" height="64.2" rx="8" fill="#DA9694" style="filter:blur(0.9px)"/><text x="1656.5" y="600.5" fill="#111">CT</text><text x="1659.7" y="624.9" fill="#111">-1.6%</text><rect x="1626.2" y="664" width="68.5" height="64.7" rx="8" fill="#C4D79B" style="filter:blur(0.9px)"/><text x="1661.1" y="684.9" fill="#111">DE</text><text x="1663.2" y="709.7" fill="#111">1.7%</text><rect x="1698.3" y="664" width="69.4" height="64.7" rx="8" fill="#DA9694" style="filter:blur(0.9px)"/><text x="1732.7" y="684.1" fill="#111">NJ</text><text x="1736.5" y="710.5" fill="#111">-2.0%</text><rect x="1623.3" y="742" width="69.4" height="64.8" rx="8" fill="#DA9694" style="filter:blur(0.9px)"/><text x="1657.7" y="761.6" fill="#111">MD</text><text x="1659.8" y="787.2" fill="#111">-0.3%</text><rect x="1698.6" y="741.2" width="69.1" height="63.6" rx="8" fill="#C4D79B" style="filter:blur(0.9px)"/><text x="1732.4" y="759.9" fill="#111">DC</text><text x="1738.2" y="783" fill="#111">3.5%</text><rect x="1027.9" y="841.8" width="69.9" height="66.0" rx="8" fill="#C4D79B" style="filter:blur(0.9px)"/><text x="1063.2" y="862.6" fill="#111">HI</text><text x="1065.7" y="888.2" fill="#111">2.3%</text></g>
</svg>
</body></html>
